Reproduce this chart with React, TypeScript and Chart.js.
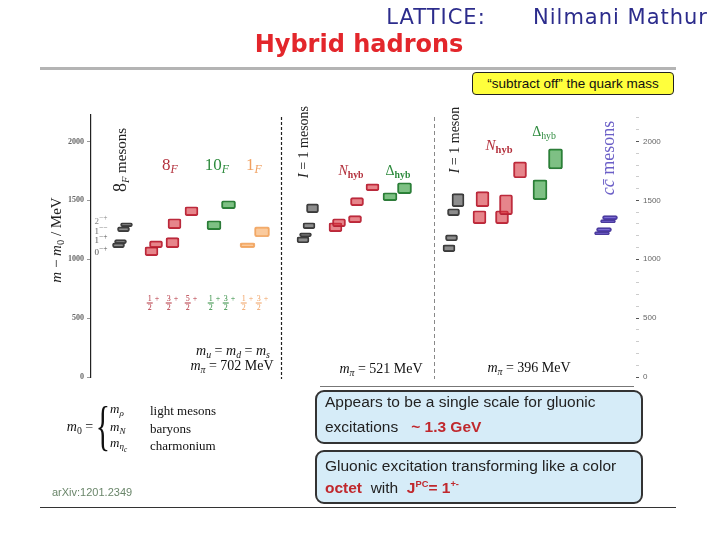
import React, { useEffect, useRef } from "react";
import { Chart, registerables } from "chart.js";

Chart.register(...registerables);

// ---------- values (m - m0 in MeV, [low, high]) ----------
const yTicks = [0, 500, 1000, 1500, 2000];
const rightTicks = [0, 100, 200, 300, 400, 500, 600, 700, 800, 900, 1000, 1100, 1200, 1300, 1400, 1500, 1600, 1700, 1800, 1900, 2000, 2100, 2200];

// m_pi = 702 MeV (SU(3) flavour point)
const mesonCol702 = [3.55, 3.25, 2.95, 2.75];
const mesonMass702 = [[1276, 1310], [1234, 1276], [1132, 1166], [1098, 1140]];
const octetCol702 = [6.05, 6.5, 8.15, 8.35, 10.05];
const octetMass702 = [[1030, 1106], [1098, 1157], [1098, 1183], [1259, 1344], [1370, 1446]];
const decupletCol702 = [12.3, 13.75];
const decupletMass702 = [[1251, 1327], [1429, 1497]];
const singletCol702 = [15.65, 17.1];
const singletMass702 = [[1098, 1140], [1191, 1276]];

// m_pi = 521 MeV
const mesonCol521 = [22.15, 21.8, 21.45, 21.2];
const mesonMass521 = [[1395, 1471], [1259, 1310], [1191, 1225], [1140, 1191]];
const nucleonCol521 = [24.45, 24.8, 26.4, 26.6, 28.15];
const nucleonMass521 = [[1234, 1310], [1276, 1344], [1310, 1370], [1455, 1523], [1582, 1641]];
const deltaCol521 = [29.9, 31.35];
const deltaMass521 = [[1497, 1565], [1557, 1650]];

// m_pi = 396 MeV
const mesonCol396 = [36.7, 36.25, 36.05, 35.8];
const mesonMass396 = [[1446, 1557], [1370, 1429], [1157, 1208], [1064, 1123]];
const nucleonCol396 = [38.85, 39.15, 41.1, 41.5, 42.9];
const nucleonMass396 = [[1302, 1412], [1446, 1574], [1302, 1412], [1378, 1548], [1692, 1828]];
const deltaCol396 = [44.9, 46.45];
const deltaMass396 = [[1506, 1675], [1768, 1938]];

// charmonium
const charmCol = [51.9, 51.7, 51.3, 51.1];
const charmMass = [[1336, 1370], [1310, 1336], [1234, 1268], [1208, 1234]];

// panel separators (x positions in column units)
const separatorCols = [19.0, 34.25];

const SERIF = '"Liberation Serif", "DejaVu Serif", serif';
const SANS = '"Liberation Sans", Arial, sans-serif';
const VERD = '"DejaVu Sans", Verdana, sans-serif';

const GRAY = { bg: "rgba(80,80,80,0.65)", bd: "#3a3a3a" };
const RED = { bg: "rgba(214,52,62,0.6)", bd: "rgba(180,30,50,0.95)" };
const GREEN = { bg: "rgba(40,150,50,0.6)", bd: "#2d7a3a" };
const ORANGE = { bg: "rgba(245,150,60,0.5)", bd: "rgba(240,165,100,0.9)" };
const PURPLE = { bg: "rgba(90,70,200,0.7)", bd: "#4a3a9a" };

function boxes(cols: number[], ranges: number[][], st: { bg: string; bd: string }, w: number) {
  return {
    type: "bar" as const,
    data: cols.map((x, i) => ({ x, y: ranges[i] })),
    backgroundColor: st.bg,
    borderColor: st.bd,
    borderWidth: 1.3,
    borderRadius: 2,
    borderSkipped: false,
    barThickness: w,
    grouped: false,
  };
}

const separatorPlugin = {
  id: "separators",
  afterDatasetsDraw(chart: any) {
    const { ctx, chartArea, scales } = chart;
    const styles = [
      { c: "#222", d: [3, 2], w: 1.2 },
      { c: "#888", d: [4, 3], w: 1 },
    ];
    separatorCols.forEach((v, i) => {
      const px = Math.round(scales.x.getPixelForValue(v)) + 0.5;
      ctx.save();
      ctx.strokeStyle = styles[i].c;
      ctx.lineWidth = styles[i].w;
      ctx.setLineDash(styles[i].d);
      ctx.beginPath();
      ctx.moveTo(px, chartArea.top + 2);
      ctx.lineTo(px, chartArea.bottom + 2);
      ctx.stroke();
      ctx.restore();
    });
  },
};

type TP = { x: number; y: number; children?: any; style?: any; rot?: boolean; left?: boolean };
const T = ({ x, y, children, style, rot, left }: TP) => (
  <div
    style={{
      position: "absolute",
      left: x,
      top: y,
      transform: left ? "translateY(-50%)" : rot ? "translate(-50%,-50%) rotate(-90deg)" : "translate(-50%,-50%)",
      whiteSpace: "nowrap",
      lineHeight: 1,
      fontFamily: SERIF,
      ...style,
    }}
  >
    {children}
  </div>
);

const Frac = ({ x, y, n, sign, color }: { x: number; y: number; n: string; sign: string; color: string }) => (
  <div
    style={{
      position: "absolute",
      left: x,
      top: y,
      transform: "translate(-50%,-50%)",
      color,
      fontFamily: SERIF,
      fontSize: 8,
      lineHeight: "8px",
      display: "flex",
      alignItems: "flex-start",
    }}
  >
    <div style={{ display: "flex", flexDirection: "column", alignItems: "center" }}>
      <span>{n}</span>
      <span style={{ borderTop: `1px solid ${color}`, padding: "0 1px" }}>2</span>
    </div>
    <span style={{ marginLeft: 2 }}>{sign}</span>
  </div>
);

const sub = (s: any, extra?: any) => <sub style={{ fontSize: "0.7em", verticalAlign: "-0.25em", ...extra }}>{s}</sub>;

export default function App() {
  const ref = useRef<HTMLCanvasElement>(null);

  useEffect(() => {
    if (!ref.current) return;
    const chart = new Chart(ref.current, {
      type: "bar",
      data: {
        datasets: [
          boxes(mesonCol702, mesonMass702, GRAY, 12),
          boxes(octetCol702, octetMass702, RED, 13),
          boxes(decupletCol702, decupletMass702, GREEN, 14),
          boxes(singletCol702, singletMass702, ORANGE, 15),
          boxes(mesonCol521, mesonMass521, GRAY, 12),
          boxes(nucleonCol521, nucleonMass521, RED, 13),
          boxes(deltaCol521, deltaMass521, GREEN, 14),
          boxes(mesonCol396, mesonMass396, GRAY, 12),
          boxes(nucleonCol396, nucleonMass396, RED, 13),
          boxes(deltaCol396, deltaMass396, GREEN, 14),
          boxes(charmCol, charmMass, PURPLE, 15),
        ] as any,
      },
      options: {
        responsive: false,
        animation: false,
        devicePixelRatio: 1,
        layout: { padding: { left: 51, right: 44, top: 115, bottom: 163 } },
        plugins: { legend: { display: false }, tooltip: { enabled: false } },
        scales: {
          x: { type: "linear", min: 0, max: 54.5, display: false, offset: false },
          y: {
            type: "linear",
            position: "left",
            min: 0,
            max: 2225,
            afterFit: (s: any) => {
              s.width = 40;
            },
            afterBuildTicks: (s: any) => {
              s.ticks = yTicks.map((v) => ({ value: v }));
            },
            grid: { drawOnChartArea: false, tickLength: 4, color: "#999" },
            border: { display: true, color: "#222", width: 1.2 },
            ticks: {
              callback: (v: any) => String(v),
              font: { size: 8, family: SERIF, weight: "bold" },
              color: "#666",
              padding: 3,
            },
          },
          y2: {
            type: "linear",
            position: "right",
            min: 0,
            max: 2225,
            afterFit: (s: any) => {
              s.width = 40;
            },
            afterBuildTicks: (s: any) => {
              s.ticks = rightTicks.map((v) => ({ value: v }));
            },
            grid: {
              drawOnChartArea: false,
              tickLength: 3,
              tickColor: (c: any) => (c.tick && c.tick.value % 500 === 0 ? "#555" : "#ccc"),
            },
            border: { display: false },
            ticks: {
              autoSkip: false,
              callback: (v: any) => (Number(v) % 500 === 0 ? String(v) : ""),
              font: { size: 8, family: SANS },
              color: "#666",
              padding: 4,
            },
          },
        } as any,
      },
      plugins: [separatorPlugin],
    });
    return () => chart.destroy();
  }, []);

  const navy = "#2c2c8c";
  const red = "#b3303c";
  const green = "#2e8b3e";
  const orange = "#f0a060";
  const purple = "#6b5fc7";
  const hot = "#c0282d";

  return (
    <div style={{ position: "fixed", left: 0, top: 0, width: 720, height: 540, background: "#fff", overflow: "hidden" }}>
      <canvas ref={ref} width={720} height={540} style={{ position: "absolute", left: 0, top: 0, width: 720, height: 540 }} />

      {/* header */}
      <T x={436} y={17} style={{ fontFamily: VERD, fontSize: 21, color: navy, letterSpacing: 1 }}>LATTICE:</T>
      <T x={533} y={17} left style={{ fontFamily: VERD, fontSize: 21, color: navy, letterSpacing: 1 }}>Nilmani Mathur</T>
      <T x={359} y={44} style={{ fontFamily: VERD, fontSize: 24, fontWeight: "bold", color: "#e3262b" }}>Hybrid hadrons</T>
      <div style={{ position: "absolute", left: 40, top: 67, width: 636, height: 3, background: "#b4b4b4" }} />
      <div
        style={{
          position: "absolute",
          left: 472,
          top: 72,
          width: 200,
          height: 21,
          background: "#ffff3c",
          border: "1.5px solid #222",
          borderRadius: 4,
          fontFamily: SANS,
          fontSize: 13.5,
          lineHeight: "21px",
          textAlign: "center",
          color: "#111",
          whiteSpace: "nowrap",
        }}
      >
        “subtract off” the quark mass
      </div>

      {/* left panel labels */}
      <T x={58} y={240} rot style={{ fontSize: 15, color: "#222" }}>
        <i>m</i> − <i>m</i>{sub("0")} / MeV
      </T>
      <T x={121} y={160} rot style={{ fontSize: 15, color: "#222" }}>
        <span style={{ fontSize: 18 }}>8</span>{sub(<i>F</i>)} mesons
      </T>
      <T x={101} y={220} style={{ fontSize: 9, color: "#888" }}>2<sup>−+</sup></T>
      <T x={101} y={230} style={{ fontSize: 9, color: "#666" }}>1<sup>−−</sup></T>
      <T x={101} y={239} style={{ fontSize: 9, color: "#555" }}>1<sup>−+</sup></T>
      <T x={101} y={251} style={{ fontSize: 9, color: "#555" }}>0<sup>−+</sup></T>

      <T x={170} y={166} style={{ fontSize: 17, color: red }}>8{sub(<i>F</i>)}</T>
      <T x={217} y={166} style={{ fontSize: 17, color: green }}>10{sub(<i>F</i>)}</T>
      <T x={254} y={166} style={{ fontSize: 17, color: orange }}>1{sub(<i>F</i>)}</T>

      <Frac x={153} y={303} n="1" sign="+" color={red} />
      <Frac x={172} y={303} n="3" sign="+" color={red} />
      <Frac x={191} y={303} n="5" sign="+" color={red} />
      <Frac x={214} y={303} n="1" sign="+" color={green} />
      <Frac x={229} y={303} n="3" sign="+" color={green} />
      <Frac x={247} y={303} n="1" sign="+" color={orange} />
      <Frac x={262} y={303} n="3" sign="+" color={orange} />

      <T x={233} y={352} style={{ fontSize: 14, color: "#111" }}>
        <i>m</i>{sub(<i>u</i>)} = <i>m</i>{sub(<i>d</i>)} = <i>m</i>{sub(<i>s</i>)}
      </T>
      <T x={232} y={367} style={{ fontSize: 14, color: "#111" }}>
        <i>m</i>{sub(<i>π</i>)} = 702 MeV
      </T>

      {/* middle panel labels */}
      <T x={304} y={142} rot style={{ fontSize: 14, color: "#222" }}>
        <i>I</i> = 1 mesons
      </T>
      <T x={351} y={172} style={{ fontSize: 14, color: red }}>
        <i>N</i>{sub(<b>hyb</b>)}
      </T>
      <T x={398} y={172} style={{ fontSize: 14, color: green }}>
        Δ{sub(<b>hyb</b>)}
      </T>
      <T x={381} y={370} style={{ fontSize: 14, color: "#111" }}>
        <i>m</i>{sub(<i>π</i>)} = 521 MeV
      </T>

      {/* right panel labels */}
      <T x={455} y={140} rot style={{ fontSize: 14, color: "#222" }}>
        <i>I</i> = 1 meson
      </T>
      <T x={499} y={147} style={{ fontSize: 15, color: red }}>
        <i>N</i>{sub(<b>hyb</b>)}
      </T>
      <T x={544} y={133} style={{ fontSize: 14, color: green }}>
        Δ{sub("hyb")}
      </T>
      <T x={608} y={158} rot style={{ fontSize: 18, color: purple }}>
        <i>c{"c\u0304"}</i> mesons
      </T>
      <T x={529} y={369} style={{ fontSize: 14, color: "#111" }}>
        <i>m</i>{sub(<i>π</i>)} = 396 MeV
      </T>
      <div style={{ position: "absolute", left: 320, top: 386, width: 314, height: 0, borderTop: "1.5px solid #777" }} />

      {/* bottom-left definitions */}
      <T x={80} y={428} style={{ fontSize: 14, color: "#111" }}>
        <i>m</i>{sub("0")} =
      </T>
      <T x={103} y={426} style={{ fontSize: 54, color: "#111", transform: "translate(-50%,-50%) scaleX(0.55)", fontWeight: 100 }}>
        {"{"}
      </T>
      <T x={110} y={410} left style={{ fontSize: 13, color: "#111" }}>
        <i>m</i>{sub(<i>ρ</i>)}
      </T>
      <T x={110} y={428} left style={{ fontSize: 13, color: "#111" }}>
        <i>m</i>{sub(<i>N</i>)}
      </T>
      <T x={110} y={445} left style={{ fontSize: 13, color: "#111" }}>
        <i>m</i>{sub(<i>η<sub style={{ fontSize: "0.8em" }}>c</sub></i>)}
      </T>
      <T x={150} y={410} left style={{ fontSize: 13, color: "#111" }}>light mesons</T>
      <T x={150} y={428} left style={{ fontSize: 13, color: "#111" }}>baryons</T>
      <T x={150} y={445} left style={{ fontSize: 13, color: "#111" }}>charmonium</T>
      <T x={52} y={492} left style={{ fontFamily: SANS, fontSize: 11, color: "#6a866a" }}>arXiv:1201.2349</T>

      {/* callout boxes */}
      <div
        style={{
          position: "absolute",
          left: 315,
          top: 390,
          width: 324,
          height: 50,
          background: "#d6ecf8",
          border: "2px solid #333",
          borderRadius: 9,
        }}
      />
      <div
        style={{
          position: "absolute",
          left: 315,
          top: 450,
          width: 324,
          height: 50,
          background: "#d6ecf8",
          border: "2px solid #333",
          borderRadius: 9,
        }}
      />
      <T x={325} y={402} left style={{ fontFamily: SANS, fontSize: 15.5, color: "#222" }}>
        Appears to be a single scale for gluonic
      </T>
      <T x={325} y={427} left style={{ fontFamily: SANS, fontSize: 15.5, color: "#222" }}>
        excitations&nbsp;&nbsp;&nbsp;<b style={{ color: hot }}>~ 1.3 GeV</b>
      </T>
      <T x={325} y={466} left style={{ fontFamily: SANS, fontSize: 15.5, color: "#222" }}>
        Gluonic excitation transforming like a color
      </T>
      <T x={325} y={488} left style={{ fontFamily: SANS, fontSize: 15.5, color: "#222" }}>
        <b style={{ color: hot }}>octet</b>&nbsp; with&nbsp;&nbsp;
        <b style={{ color: hot }}>
          J<sup style={{ fontSize: "0.6em" }}>PC</sup>= 1<sup style={{ fontSize: "0.6em" }}>+-</sup>
        </b>
      </T>
      <div style={{ position: "absolute", left: 40, top: 507, width: 636, height: 0, borderTop: "1.5px solid #333" }} />
    </div>
  );
}
